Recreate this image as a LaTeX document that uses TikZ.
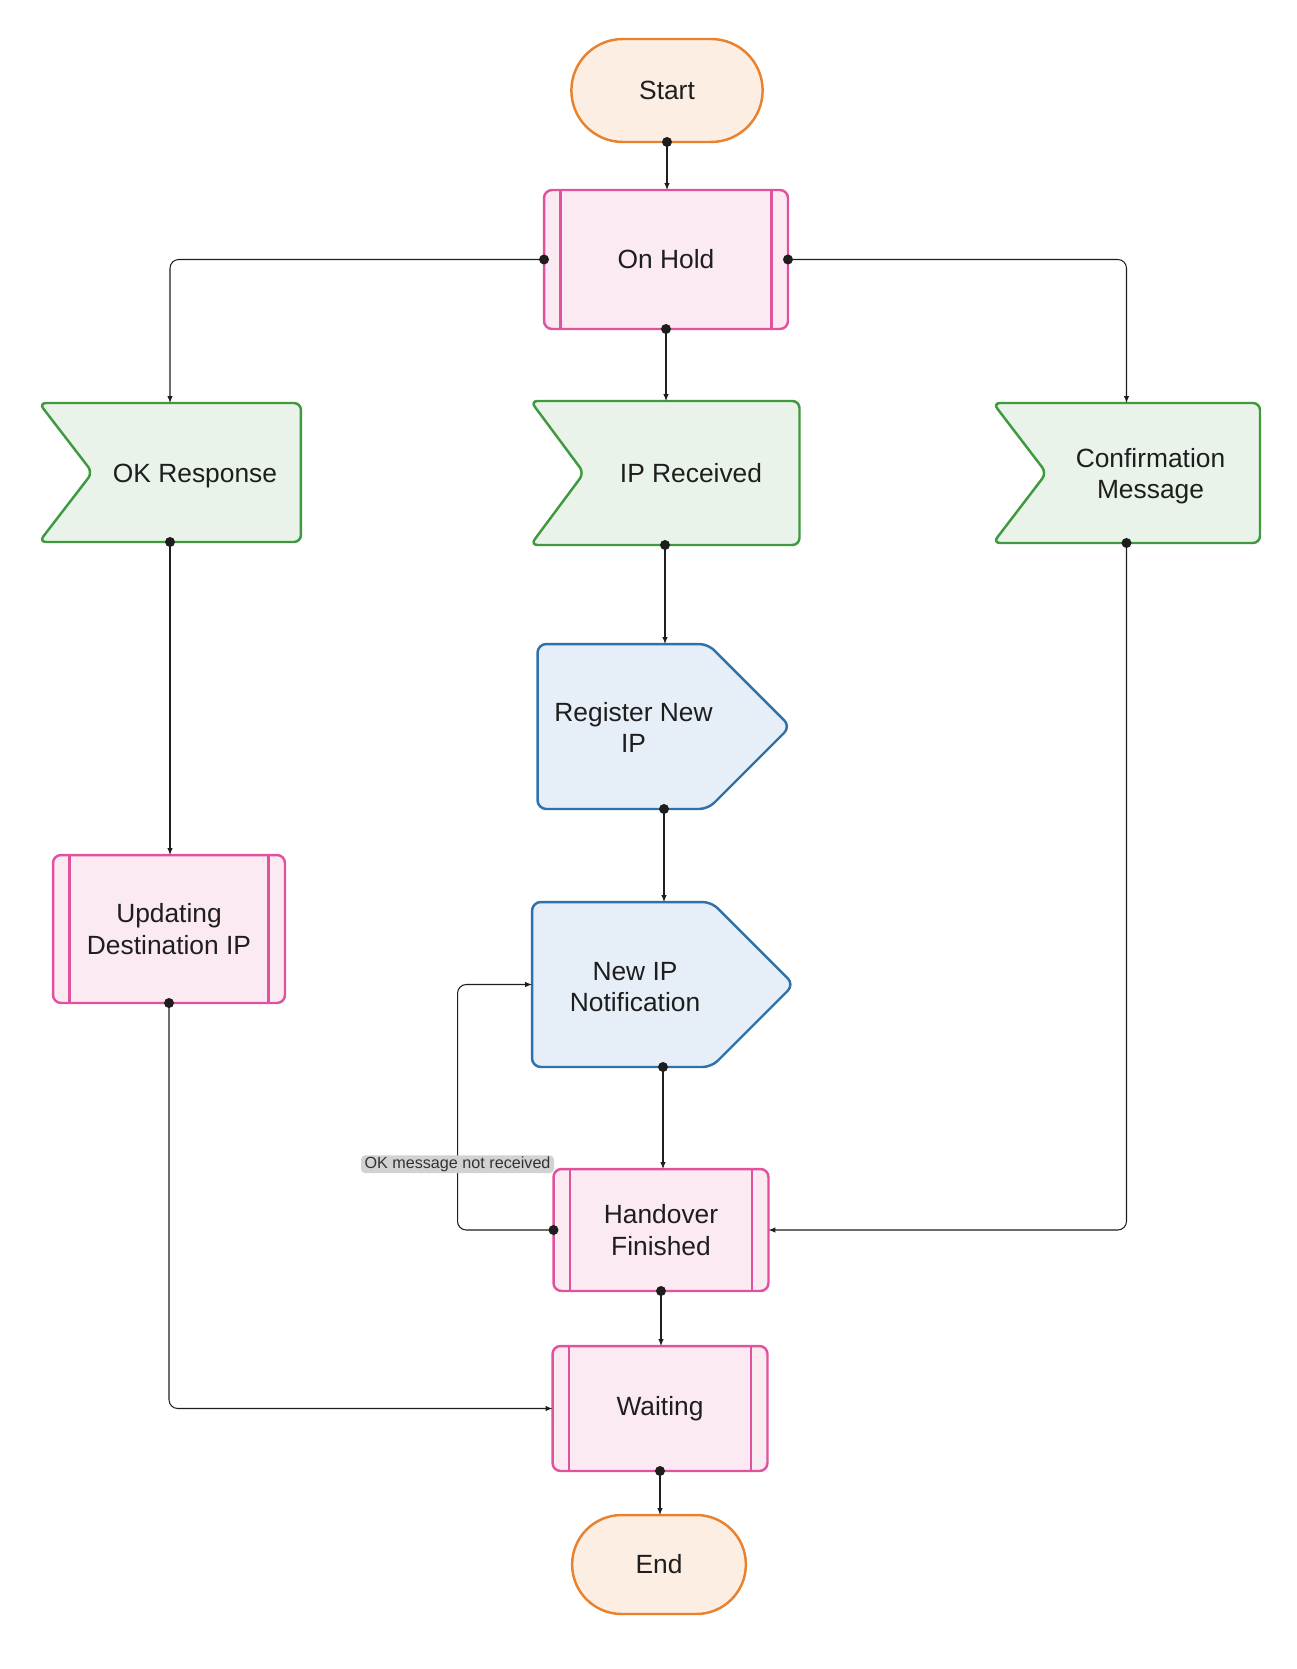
\documentclass[tikz,border=0pt]{standalone}
\usepackage{fontspec}
\setmainfont{Liberation Sans}
\usetikzlibrary{positioning, arrows.meta, backgrounds, shapes.misc}

\definecolor{termline}{HTML}{E8822E}
\definecolor{termfill}{HTML}{FDEEE3}
\definecolor{procline}{HTML}{E0529C}
\definecolor{procfill}{HTML}{FCEAF3}
\definecolor{evtline}{HTML}{3F9A3F}
\definecolor{evtfill}{HTML}{EAF3E9}
\definecolor{actline}{HTML}{2F72A9}
\definecolor{actfill}{HTML}{E6EEF7}
\definecolor{inkdark}{HTML}{1E1E1E}

\tikzset{
  terminal/.style={rounded rectangle, draw=termline, fill=termfill, line width=1.4pt, outer sep=0pt},
  process/.style={rectangle, draw=procline, fill=procfill, line width=1.4pt, rounded corners=0.16cm, outer sep=0pt,
    path picture={\draw[procline, line width=1.4pt]
      ([xshift=0.33cm]path picture bounding box.north west) -- ([xshift=0.33cm]path picture bounding box.south west)
      ([xshift=-0.33cm]path picture bounding box.north east) -- ([xshift=-0.33cm]path picture bounding box.south east);}},
  event/.style={rectangle, inner sep=0pt, outer sep=0pt},
  action/.style={rectangle, inner sep=0pt, outer sep=0pt},
  conn/.style={draw=inkdark, line width=0.6pt, rounded corners=5pt, -{Latex[length=1.4mm, width=1.1mm]}},
  msg/.style={fill=gray!35, text=black!80, rounded corners=2.5pt, inner xsep=2pt, inner ysep=0.8pt,
    font=\fontsize{9.2}{11}\selectfont}
}

\begin{document}
\begin{tikzpicture}[x=0.02cm, y=-0.02cm, font=\fontsize{15}{18}\selectfont, text=inkdark, align=center]
  \useasboundingbox (0,0) rectangle (1296,1669);
  % colonna centrale
  \node[terminal, minimum width=4.06cm, minimum height=2.06cm] (start) at (667,90.5) {Start};
  \node[process, minimum width=4.88cm, minimum height=2.78cm] (hold) at (666,259.5) {On Hold};
  \node[event, minimum width=5.38cm, minimum height=2.88cm, label={[xshift=0.52cm]center:IP Received}] (iprecv) at (665,473) {};
  \node[action, minimum width=5.06cm, minimum height=3.30cm, label={[xshift=-0.61cm, yshift=-0.02cm]center:Register New\\IP}] (register) at (664,726.5) {};
  \node[action, minimum width=5.24cm, minimum height=3.30cm, label={[xshift=-0.56cm, yshift=-0.05cm]center:New IP\\Notification}] (notif) at (663,984.5) {};
  \node[process, minimum width=4.30cm, minimum height=2.44cm] (handover) at (661,1230) {Handover\\Finished};
  \node[process, minimum width=4.30cm, minimum height=2.50cm] (waiting) at (660,1408.5) {Waiting};
  \node[terminal, minimum width=3.71cm, minimum height=1.98cm] (stop) at (659,1564.5) {End};
  % rami laterali
  \node[event, minimum width=5.24cm, minimum height=2.78cm, label={[xshift=0.5cm, yshift=-0.08cm]center:OK Response}] (okresp) at (170,472.5) {};
  \node[process, minimum width=4.64cm, minimum height=2.96cm] (update) at (169,929) {Updating\\Destination IP};
  \node[event, minimum width=5.34cm, minimum height=2.80cm, label={[xshift=0.48cm, yshift=-0.06cm]center:Confirmation\\Message}] (confirm) at (1126.5,473) {};

  % sagome (eventi e azioni)
  \begin{scope}[on background layer]
    \foreach \n in {okresp, iprecv, confirm}
      \draw[draw=evtline, fill=evtfill, line width=1.4pt, rounded corners=4pt]
        (\n.north west) -- (\n.north east) -- (\n.south east) -- (\n.south west) -- ([xshift=1.07cm]\n.west) -- cycle;
    \foreach \n in {register, notif}
      \draw[draw=actline, fill=actfill, line width=1.4pt, rounded corners=5pt]
        (\n.north west) -- ([xshift=-1.65cm]\n.north east) -- (\n.east) -- ([xshift=-1.65cm]\n.south east) -- (\n.south west) -- cycle;
  \end{scope}

  % connettori
  \foreach \a/\b in {start/hold, hold/iprecv, okresp/update, iprecv/register, register/notif, notif/handover, handover/waiting, waiting/stop}{
    \draw[conn] (\a.south) -- (\a.south |- \b.north);
    \fill[inkdark] (\a.south) circle[radius=1mm];
  }
  \draw[conn] (hold.west) -| (okresp.north);
  \draw[conn] (hold.east) -| (confirm.north);
  \draw[conn] (update.south) |- (waiting.west);
  \draw[conn] (confirm.south) |- (handover.east);
  \draw[conn] (handover.west) -- ++(-96,0) |- node[msg, pos=0.134]{OK message not received} (notif.west);
  \foreach \p in {hold.west, hold.east, update.south, confirm.south, handover.west}
    \fill[inkdark] (\p) circle[radius=1mm];
\end{tikzpicture}
\end{document}
